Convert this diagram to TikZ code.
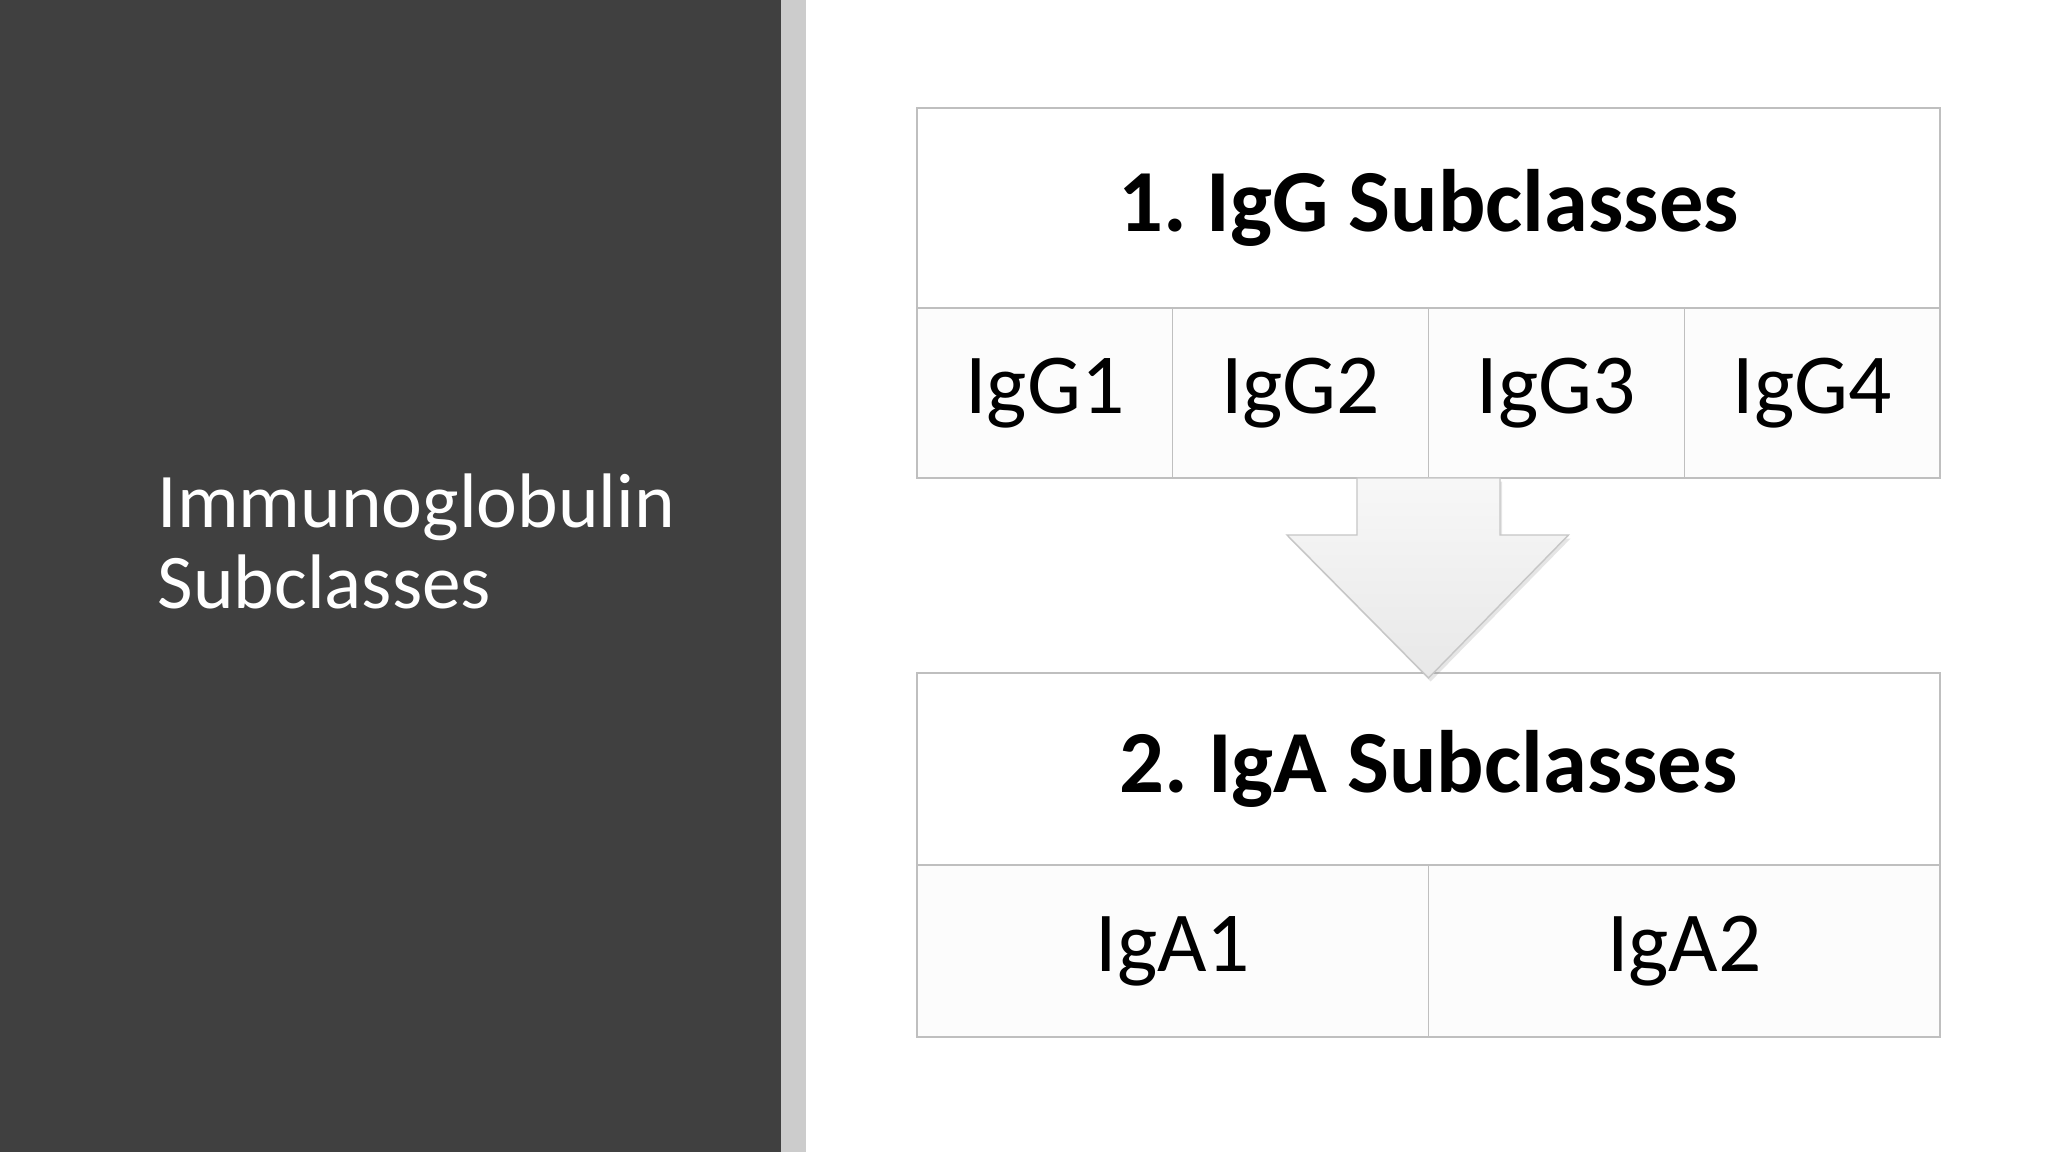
\documentclass[tikz,border=0pt]{standalone}
\usepackage{fontspec}
\setmainfont{Carlito}
\usepackage{tikz}
\usetikzlibrary{positioning, calc, shadows, backgrounds}
\definecolor{panelgray}{RGB}{64,64,64}
\definecolor{stripgray}{RGB}{204,204,204}
\definecolor{linegray}{RGB}{191,191,191}
\frenchspacing

\begin{document}
\begin{tikzpicture}[
    headbox/.style={rectangle, draw=linegray, fill=white, line width=0.4pt, minimum width=10.23cm, inner sep=0pt, outer sep=0pt, text centered, font=\fontsize{25.2}{29}\selectfont\bfseries},
    cellbox/.style={rectangle, draw=linegray, fill=gray!2, line width=0.4pt, inner sep=0pt, outer sep=0pt, text centered, font=\fontsize{24.3}{29}\selectfont},
    titletext/.style={text=white, inner sep=0pt, font=\fontsize{22}{26}\selectfont},
    frameshadow/.style={fill=white, drop shadow={shadow xshift=0.8pt, shadow yshift=-1.4pt, opacity=0.3}},
    bigarrow/.style={draw=gray!45, line width=0.4pt, top color=gray!6, bottom color=gray!18, drop shadow={shadow xshift=0.6pt, shadow yshift=-1.0pt, opacity=0.2}}
]

\useasboundingbox (0,0) rectangle (20.48,-11.52);

% left panel
\fill[white] (0,0) rectangle (20.48,-11.52);
\fill[panelgray] (0,0) rectangle (7.81,-11.52);
\fill[stripgray] (7.81,0) rectangle (8.06,-11.52);

\node[titletext, anchor=base west] (title1) at (1.57,-5.28) {Immunoglobulin};
\node[titletext, anchor=base west] (title2) at (1.57,-6.08) {Subclasses};

% IgG block
\node[headbox, minimum height=2.0cm] (igg) at (14.285,-2.08) {1. IgG Subclasses};
\node[cellbox, minimum width=2.5575cm, minimum height=1.7cm, anchor=north west] (g1) at (igg.south west) {IgG1};
\foreach \i in {2,...,4} {
    \pgfmathtruncatemacro{\j}{\i-1}
    \node[cellbox, minimum width=2.5575cm, minimum height=1.7cm, right=0pt of g\j] (g\i) {IgG\i};
}

% IgA block
\node[headbox, minimum height=1.92cm] (iga) at (14.285,-7.69) {2. IgA Subclasses};
\node[cellbox, minimum width=5.115cm, minimum height=1.72cm, anchor=north west] (a1) at (iga.south west) {IgA1};
\node[cellbox, minimum width=5.115cm, minimum height=1.72cm, right=0pt of a1] (a2) {IgA2};

\begin{scope}[on background layer]
    \fill[frameshadow] (igg.north west) rectangle (g4.south east);
    \fill[frameshadow, drop shadow={shadow yshift=-2.0pt}] (iga.north west) rectangle (a2.south east);
\end{scope}

% arrow between the blocks
\coordinate (arrtop) at (g2.south east);
\coordinate (arrtip) at ($(iga.north)+(0,-0.05)$);
\draw[bigarrow] ($(arrtop)+(-0.715,0)$) -- ++(0,-0.57) -- ++(-0.70,0) -- (arrtip)
    -- ($(arrtop)+(1.40,-0.57)$) -- ++(-0.685,0) -- ($(arrtop)+(0.715,0)$) -- cycle;

\end{tikzpicture}
\end{document}
